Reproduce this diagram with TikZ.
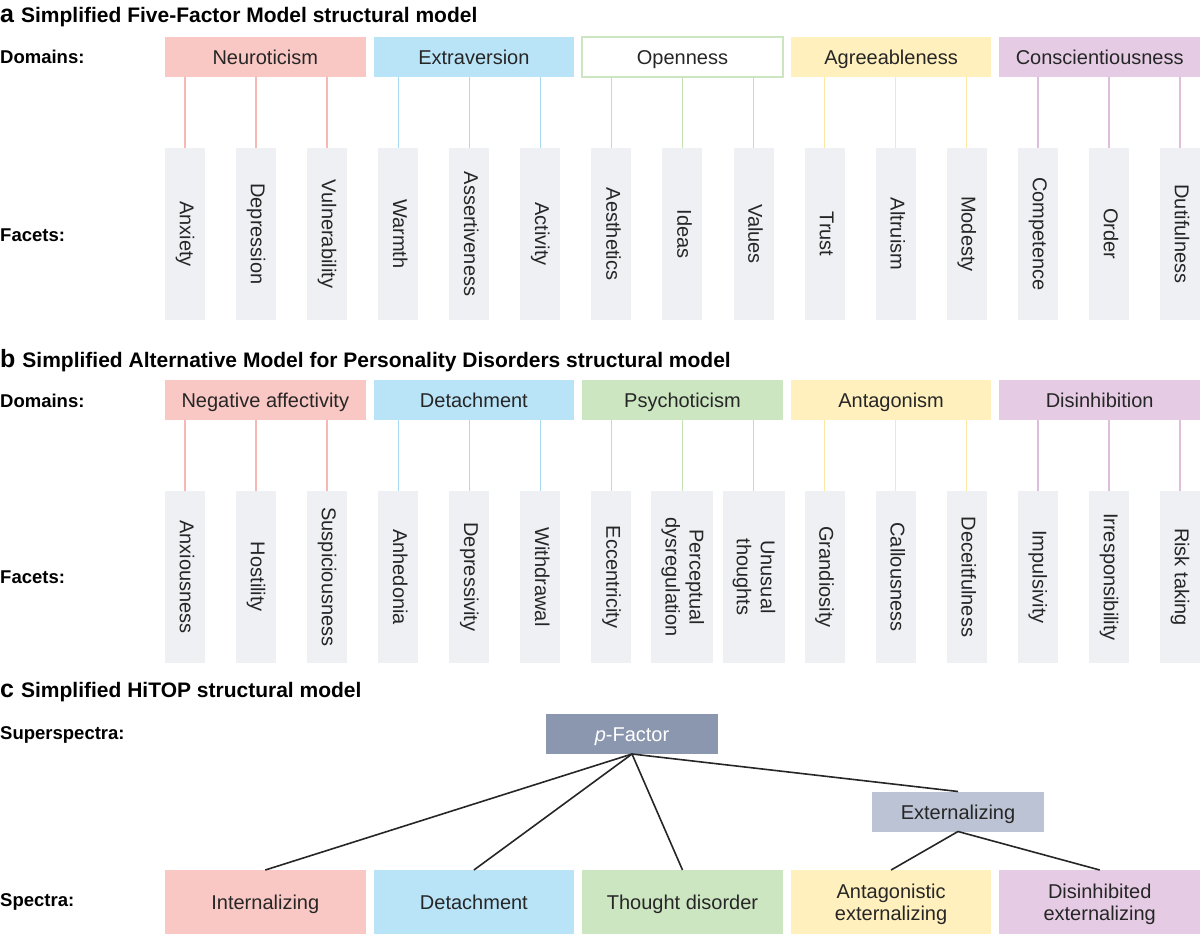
\documentclass[tikz,border=0pt]{standalone}
\usepackage{graphicx}
\usepackage{fontspec}
\setmainfont{Liberation Sans}
\usetikzlibrary{positioning}

\definecolor{inkgray}{HTML}{262626}
\definecolor{negpink}{HTML}{F9C8C4}
\definecolor{extblue}{HTML}{B9E4F8}
\definecolor{opngreen}{HTML}{CDE6C2}
\definecolor{agryellow}{HTML}{FFF0BD}
\definecolor{conpurple}{HTML}{E5CCE4}
\definecolor{negline}{HTML}{F5B8B2}
\definecolor{extline}{HTML}{A9DCF4}
\definecolor{opnline}{HTML}{C2E0B4}
\definecolor{agrline}{HTML}{FCE7A4}
\definecolor{conline}{HTML}{DDBEDC}
\definecolor{facetgray}{HTML}{EFF0F4}
\definecolor{pfactor}{HTML}{8B97AF}
\definecolor{extgray}{HTML}{BCC3D4}

\newcommand{\facetpair}[2]{\begin{tabular}{@{}c@{}}#1\\#2\end{tabular}}
\newcommand{\panelmark}[1]{{\fontsize{25}{25}\selectfont #1}\hspace{7pt}}

\tikzset{
    domainbox/.style={minimum width=200.6pt, minimum height=40pt, inner sep=0pt,
        outer sep=0pt, text=inkgray, text height=19.5pt, text depth=4pt,
        font=\fontsize{20}{22}\selectfont},
    facetbox/.style={fill=facetgray, minimum width=40pt, minimum height=172pt,
        inner sep=0pt, outer sep=0pt, text=inkgray, font=\fontsize{20}{24}\selectfont},
    spectrumbox/.style={domainbox, minimum height=64pt, align=center},
    twolines/.style={text height=41.5pt, text depth=4pt},
    rowlabel/.style={anchor=west, inner sep=0pt, font=\bfseries\fontsize{18.5}{20}\selectfont},
    paneltitle/.style={anchor=west, inner sep=0pt, font=\bfseries\fontsize{21}{23}\selectfont},
    tie/.style={line width=1.3pt},
}

\begin{document}
\begin{tikzpicture}[x=1pt,y=-1pt]
    \useasboundingbox (0,0) rectangle (1200,934);

    % a: five-factor model
    \node[paneltitle] (ttla) at (0,17) {\panelmark{a}Simplified Five-Factor Model structural model};
    \node[rowlabel] (doma) at (0,57) {Domains:};
    \node[rowlabel] (faca) at (0,235) {Facets:};
    \node[domainbox, fill=negpink] (neu) at (265.3,57) {Neuroticism};
    \node[domainbox, fill=extblue, right=8pt of neu] (ext) {Extraversion};
    \node[domainbox, fill=white, draw=opngreen, line width=1.5pt, right=8pt of ext] (opn) {Openness};
    \node[domainbox, fill=agryellow, right=8pt of opn] (agr) {Agreeableness};
    \node[domainbox, fill=conpurple, right=8pt of agr] (con) {Conscientiousness};
    \foreach \fname/\ftext/\fdom/\fcol [count=\i from 0] in {
        anx/Anxiety/neu/negline, dpn/Depression/neu/negline, vul/Vulnerability/neu/negline,
        wrm/Warmth/ext/extline, asr/Assertiveness/ext/extline, act/Activity/ext/extline,
        aes/Aesthetics/opn/opnline, ide/Ideas/opn/opnline, val/Values/opn/opnline,
        tru/Trust/agr/agrline, alt/Altruism/agr/agrline, mod/Modesty/agr/agrline,
        cmp/Competence/con/conline, ord/Order/con/conline, dut/Dutifulness/con/conline}
    {
        \node[facetbox] (\fname) at (185+71.07*\i,234) {\rotatebox{-90}{\vphantom{Ay}\ftext}};
        \draw[tie, \fcol] (\fname.north) -- (\fname.north |- \fdom.south);
    }

    % b: alternative model for personality disorders
    \node[paneltitle] (ttlb) at (0,361) {\panelmark{b}Simplified Alternative Model for Personality Disorders structural model};
    \node[rowlabel] (domb) at (0,401) {Domains:};
    \node[rowlabel] (facb) at (0,577) {Facets:};
    \node[domainbox, fill=negpink] (naf) at (265.3,400) {Negative affectivity};
    \node[domainbox, fill=extblue, right=8pt of naf] (dtc) {Detachment};
    \node[domainbox, fill=opngreen, right=8pt of dtc] (psy) {Psychoticism};
    \node[domainbox, fill=agryellow, right=8pt of psy] (atg) {Antagonism};
    \node[domainbox, fill=conpurple, right=8pt of atg] (dsn) {Disinhibition};
    \foreach \fname/\ftext/\fdom/\fcol/\fw [count=\i from 0] in {
        anxs/Anxiousness/naf/negline/40, host/Hostility/naf/negline/40, susp/Suspiciousness/naf/negline/40,
        anhd/Anhedonia/dtc/extline/40, dprs/Depressivity/dtc/extline/40, wthd/Withdrawal/dtc/extline/40,
        ecc/Eccentricity/psy/opnline/40, pdys/{\facetpair{Perceptual}{dysregulation}}/psy/opnline/62,
        unth/{\facetpair{Unusual}{thoughts}}/psy/opnline/62,
        grnd/Grandiosity/atg/agrline/40, call/Callousness/atg/agrline/40, dect/Deceitfulness/atg/agrline/40,
        impl/Impulsivity/dsn/conline/40, irrs/Irresponsibility/dsn/conline/40, rskt/Risk taking/dsn/conline/40}
    {
        \node[facetbox, minimum width=\fw pt] (\fname) at (185+71.07*\i,577) {\rotatebox{-90}{\vphantom{Ay}\ftext}};
        \draw[tie, \fcol] (\fname.north) -- (\fname.north |- \fdom.south);
    }

    % c: HiTOP
    \node[paneltitle] (ttlc) at (0,692) {\panelmark{c}Simplified HiTOP structural model};
    \node[rowlabel] (sups) at (0,735) {Superspectra:};
    \node[rowlabel] (spec) at (0,902) {Spectra:};
    \node[domainbox, minimum width=172pt, fill=pfactor, text=white] (pf) at (632,734) {\textit{p}-Factor};
    \node[domainbox, minimum width=172pt, fill=extgray] (xtz) at (958,811.5) {Externalizing};
    \node[spectrumbox, fill=negpink] (int) at (265.3,902) {Internalizing};
    \node[spectrumbox, fill=extblue, right=8pt of int] (det) {Detachment};
    \node[spectrumbox, fill=opngreen, right=8pt of det] (thd) {Thought disorder};
    \node[spectrumbox, twolines, fill=agryellow, right=8pt of thd] (ant) {Antagonistic\\externalizing};
    \node[spectrumbox, twolines, fill=conpurple, right=8pt of ant] (dsx) {Disinhibited\\externalizing};
    \draw[tie, line width=1.6pt, inkgray]
        (pf.south) edge (int.north)
        (pf.south) edge (det.north)
        (pf.south) edge (thd.north)
        (pf.south) edge (xtz.north)
        (xtz.south) edge (ant.north)
        (xtz.south) edge (dsx.north);
\end{tikzpicture}
\end{document}
